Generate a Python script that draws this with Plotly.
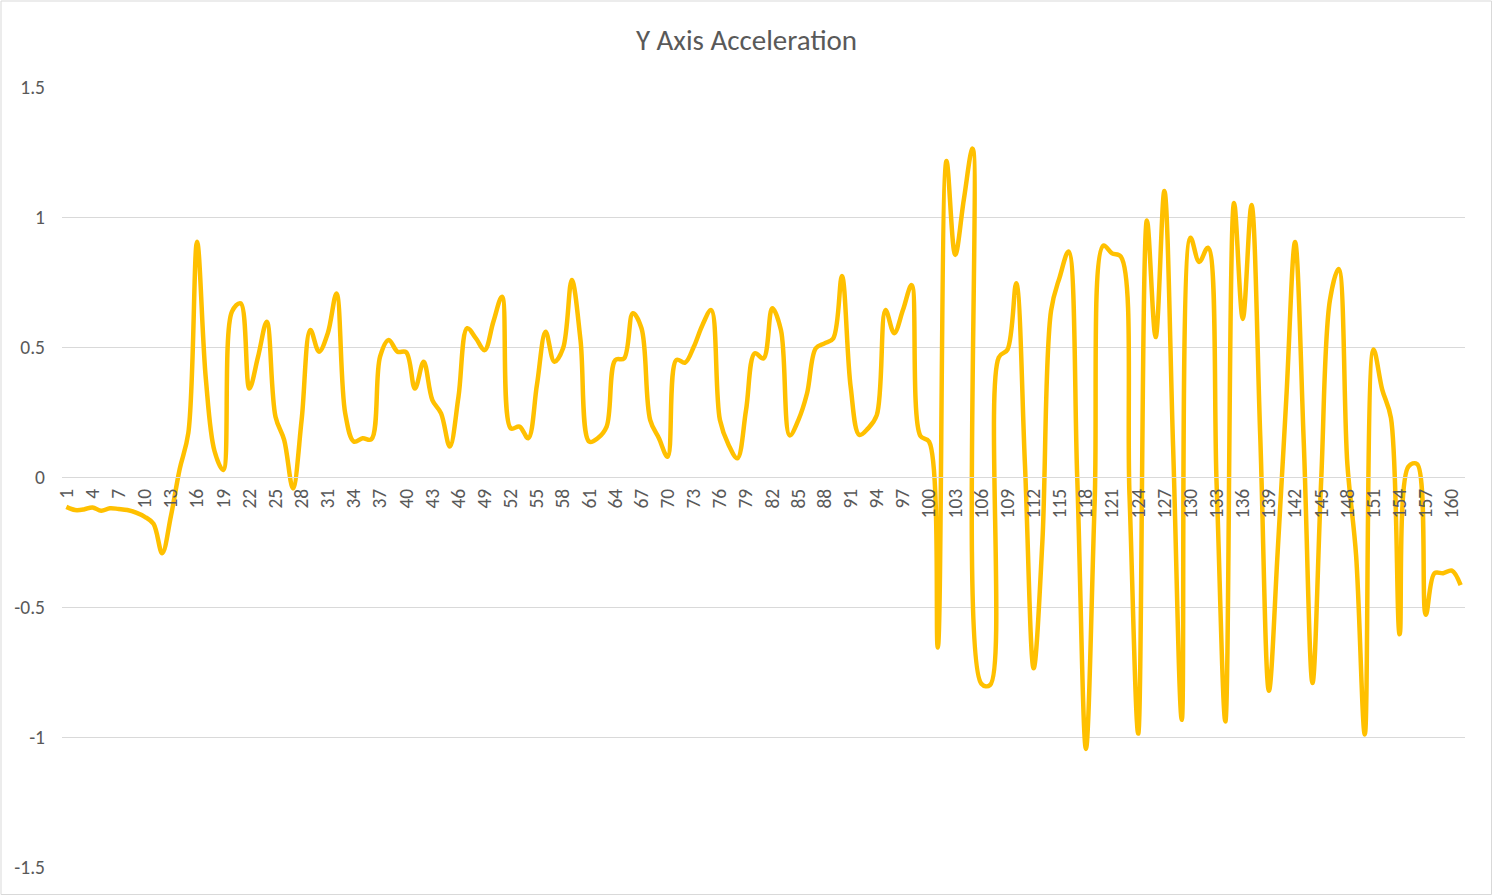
import plotly.graph_objects as go

# sample index 1..161 (category axis)
samples = list(range(1, 162))

y_accel = [
    -0.115, -0.127, -0.125, -0.117, -0.13, -0.12, -0.123, -0.127, -0.137, -0.153,
    -0.18, -0.293, -0.15, 0.03, 0.17, 0.905, 0.38, 0.1, 0.027, 0.636,
    0.668, 0.34, 0.463, 0.597, 0.232, 0.142, -0.044, 0.22, 0.565, 0.482,
    0.553, 0.706, 0.245, 0.136, 0.149, 0.145, 0.463, 0.527, 0.482, 0.48,
    0.34, 0.443, 0.296, 0.245, 0.117, 0.309, 0.572, 0.533, 0.488, 0.597,
    0.693, 0.187, 0.194, 0.149, 0.354, 0.559, 0.443, 0.495, 0.758, 0.527,
    0.136, 0.15, 0.194, 0.45, 0.456, 0.63, 0.572, 0.219, 0.149, 0.078,
    0.45, 0.44, 0.501, 0.585, 0.642, 0.219, 0.123, 0.072, 0.258, 0.476,
    0.456, 0.649, 0.565, 0.16, 0.219, 0.322, 0.495, 0.514, 0.533, 0.773,
    0.347, 0.162, 0.187, 0.238, 0.642, 0.553, 0.642, 0.738, 0.158, 0.136,
    -0.656, 1.215, 0.854, 1.07, 1.263, -0.795, -0.8, 0.46, 0.49, 0.745,
    0.05, -0.736, -0.25, 0.64, 0.77, 0.867, 0.0, -1.046, -0.1, 0.89,
    0.86, 0.848, -0.07, -0.987, 0.987, 0.538, 1.1, 0.12, -0.934, 0.92,
    0.827, 0.882, -0.03, -0.94, 1.054, 0.608, 1.046, 0.16, -0.822, -0.29,
    0.306, 0.904, 0.13, -0.792, -0.01, 0.68, 0.8, 0.05, -0.3, -0.99,
    0.49, 0.336, 0.227, -0.605, 0.04, 0.05, -0.53, -0.37, -0.37, -0.36,
    -0.416,
]

x_tick_vals = samples[::3]
x_tick_text = [str(s) for s in x_tick_vals]
y_tick_vals = [-1.5, -1, -0.5, 0, 0.5, 1, 1.5]
y_tick_text = ['-1.5', '-1', '-0.5', '0', '0.5', '1', '1.5']

FONT = 'Calibri, Carlito, Open Sans, sans-serif'
GREY_TEXT = '#595959'
GRID = '#d9d9d9'

W, H = 1493, 896
L, R, T, B = 62, 28, 87, 29

trace = go.Scatter(x=samples, y=y_accel, mode='lines', name='Y',
                   line={'color': '#FFC000', 'width': 4.5, 'shape': 'spline', 'smoothing': 1})

layout = go.Layout(
    width=W, height=H,
    margin={'l': L, 'r': R, 't': T, 'b': B},
    paper_bgcolor='white', plot_bgcolor='white',
    showlegend=False,
    font={'family': FONT, 'color': GREY_TEXT},
    title={'text': 'Y Axis Acceleration', 'x': 0.5, 'xanchor': 'center',
           'y': 1 - 40 / H, 'yanchor': 'middle', 'yref': 'container',
           'font': {'size': 29, 'color': GREY_TEXT, 'family': FONT}},
    xaxis={'range': [0.5, 161.5], 'tickmode': 'array', 'tickvals': x_tick_vals,
           'ticktext': x_tick_text, 'tickangle': -90, 'showgrid': False,
           'anchor': 'free', 'position': 0.5, 'showline': True, 'linecolor': GRID,
           'linewidth': 1, 'ticks': '', 'ticklabelstandoff': 3,
           'tickfont': {'size': 19.5, 'color': GREY_TEXT}, 'zeroline': False},
    yaxis={'range': [-1.5, 1.5], 'tickmode': 'array', 'tickvals': y_tick_vals,
           'ticktext': y_tick_text, 'showgrid': True, 'gridcolor': GRID,
           'gridwidth': 1, 'zeroline': True, 'zerolinecolor': GRID, 'zerolinewidth': 1,
           'showline': False, 'ticks': '', 'ticklabelstandoff': 16,
           'tickfont': {'size': 19.5, 'color': GREY_TEXT}},
)

fig = go.Figure(data=[trace], layout=layout)

# thin chart border like the Excel chart area
pw, ph = W - L - R, H - T - B
fig.add_shape(type='rect', xref='paper', yref='paper',
              x0=(1 - L) / pw, x1=(W - 1.5 - L) / pw,
              y0=(H - B - (H - 1.5)) / ph, y1=(H - B - 1) / ph,
              line={'color': GRID, 'width': 1}, layer='below')

# drop the default 8px page margin so the chart sits at the window corner
fig.write_html('out.html', config={'displayModeBar': False},
               post_script="document.body.style.margin='0px';")
